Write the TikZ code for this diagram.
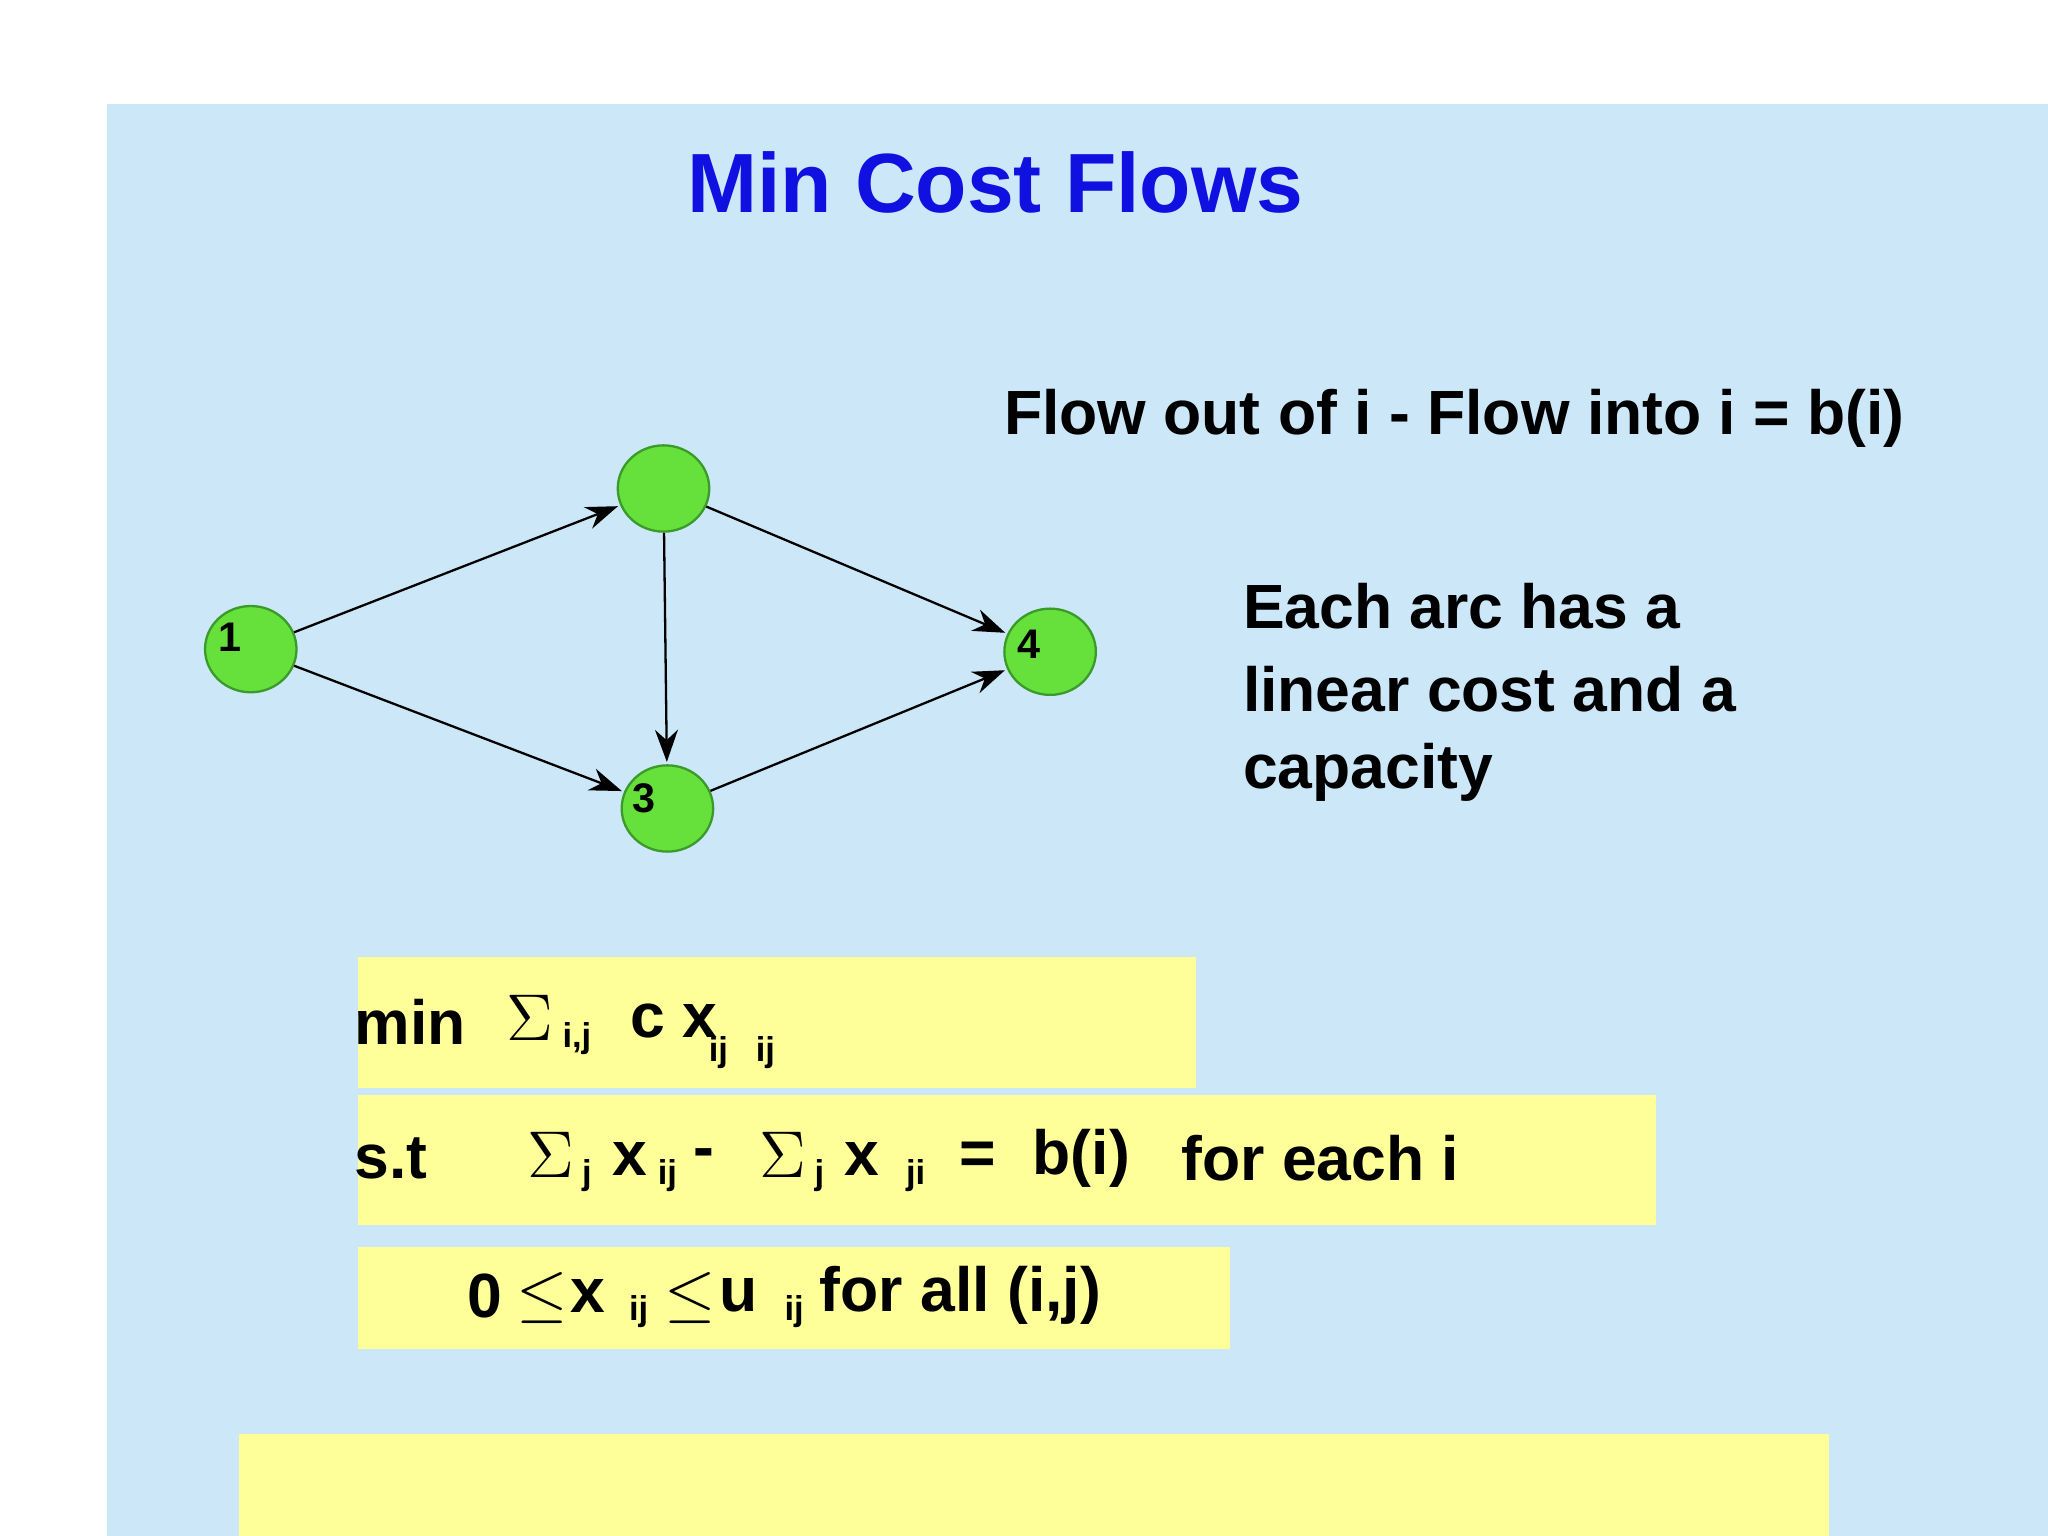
\documentclass[tikz,border=0pt]{standalone}
\usepackage{fontspec}
\setmainfont{Liberation Sans}
\usetikzlibrary{arrows.meta,shapes.geometric}
\definecolor{bgblue}{HTML}{CCE8F8}
\definecolor{ybox}{HTML}{FFFF99}
\definecolor{ngreen}{HTML}{66E03A}
\definecolor{nborder}{HTML}{3A9A2A}
\definecolor{titleblue}{HTML}{1010E0}
\tikzset{
 vert/.style={ellipse,fill=ngreen,draw=nborder,line width=0.5pt,minimum width=7mm,minimum height=6.6mm,inner sep=0pt},
 arc/.style={-{Stealth[length=7pt,width=5pt]},line width=0.5pt,shorten >=0.5pt},
 lbl/.style={font=\bfseries\fontsize{9}{10}\selectfont,anchor=center},
 txt/.style={font=\bfseries\fontsize{13.6}{16}\selectfont,anchor=west,inner sep=0pt},
 sub/.style={font=\bfseries\fontsize{7.5}{9}\selectfont,anchor=west,inner sep=0pt},
 sig/.style={font=\fontsize{15}{17}\selectfont,anchor=west,inner sep=0pt},
 yb/.style={fill=ybox,draw=none}
}
\begin{document}
\begin{tikzpicture}[x=0.01cm,y=-0.01cm]
\useasboundingbox (0,0) rectangle (1568,1176);
\fill[white] (0,0) rectangle (1568,1176);
\fill[bgblue] (82,80) rectangle (1568,1176);
\node[font=\bfseries\fontsize{18.3}{21}\selectfont,text=titleblue] (title) at (762,140) {Min Cost Flows};
% graph
\node[vert] (n1) at (192,497) {};
\node[vert] (n2) at (508,374) {};
\node[vert] (n3) at (511,619) {};
\node[vert] (n4) at (804,499) {};
\node[lbl] (l1) at (176,488) {1};
\node[lbl] (l3) at (493,611) {3};
\node[lbl] (l4) at (788,493) {4};
\draw[arc] (n1) -- (n2);
\draw[arc] (n1) -- (n3);
\draw[arc] (n2) -- (n3);
\draw[arc] (n2) -- (n4);
\draw[arc] (n3) -- (n4);
% text
\node[txt] (t1) at (768,320) {Flow out of i - Flow into i = b(i)};
\node[txt] (t2) at (951,464) {Each arc has a};
\node[txt] (t3) at (951,528) {linear cost and a};
\node[txt] (t4) at (951,591) {capacity};
% yellow boxes
\fill[yb] (274,733) rectangle (916,833);
\fill[yb] (274,838) rectangle (1268,938);
\fill[yb] (274,955) rectangle (942,1033);
\fill[yb] (183,1098) rectangle (1400,1176);
% formula 1
\node[txt] (f1a) at (271,782) {min};
\node[sig] (f1s) at (387,779) {$\Sigma$};
\node[sub] (f1b) at (430,795) {i,j};
\node[txt] (f1c) at (482,782) {c x};
\node[sub] (f1d) at (542,806) {ij};
\node[sub] (f1e) at (578,806) {ij};
% formula 2
\node[txt] (f2a) at (271,887) {s.t};
\node[sig] (f2s) at (403,884) {$\Sigma$};
\node[sub] (f2b) at (445,900) {j};
\node[txt] (f2c) at (468,887) {x};
\node[sub] (f2d) at (503,900) {ij};
\node[txt] (f2e) at (530,887) {-};
\node[sig] (f2t) at (581,884) {$\Sigma$};
\node[sub] (f2f) at (623,900) {j};
\node[txt] (f2g) at (646,887) {x};
\node[sub] (f2h) at (693,900) {ji};
\node[txt] (f2i) at (734,887) {=};
\node[txt] (f2j) at (790,887) {b(i)};
\node[txt] (f2k) at (904,887) {for each i};
% formula 3
\node[txt] (f3a) at (357,992) {0};
\node[sig] (f3le) at (395,994) {$\leq$};
\node[txt] (f3x) at (436,992) {x};
\node[sub] (f3b) at (481,1004) {ij};
\node[sig] (f3le2) at (508,994) {$\leq$};
\node[txt] (f3u) at (550,992) {u};
\node[sub] (f3d) at (600,1004) {ij};
\node[txt] (f3e) at (627,992) {for all (i,j)};
\end{tikzpicture}
\end{document}
